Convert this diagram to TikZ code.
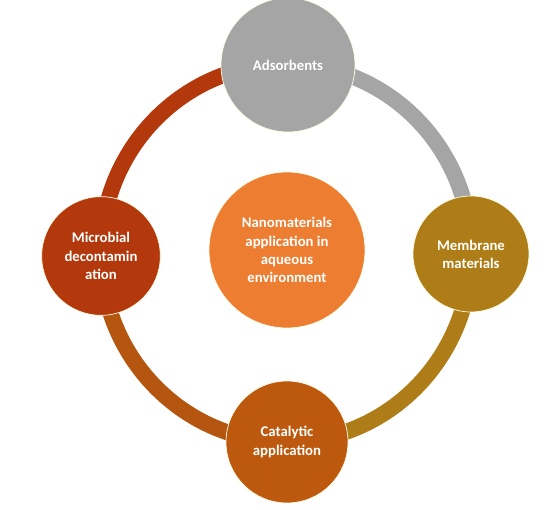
\documentclass[tikz,border=0pt]{standalone}
\usepackage{fontspec}
\setmainfont{Carlito}
\definecolor{cgray}{HTML}{A5A5A5}
\definecolor{cgold}{HTML}{AF7D17}
\definecolor{cbot}{HTML}{BD590E}
\definecolor{cbotarc}{HTML}{B4560F}
\definecolor{cleft}{HTML}{B3390C}
\definecolor{ccent}{HTML}{ED7D31}
\begin{document}
\begin{tikzpicture}[x=0.03cm,y=0.03cm,
  ring/.style={line width=0.48cm},
  bub/.style={circle,draw=white!90!yellow,line width=0.6pt,text=white,
    font=\fontsize{12.6}{15.5}\selectfont\bfseries,align=center,inner sep=0pt}]
\useasboundingbox (0,0) rectangle (550,510);
% ring segments
\draw[ring,cgray]   (286,446) arc[start angle=90,end angle=0,x radius=185,y radius=189];
\draw[ring,cgold]   (471,257) arc[start angle=0,end angle=-90,x radius=185,y radius=189];
\draw[ring,cbotarc] (286,68) arc[start angle=-90,end angle=-180,x radius=185,y radius=189];
\draw[ring,cleft]   (101,257) arc[start angle=180,end angle=90,x radius=185,y radius=189];
% nodes
\node[bub,fill=cgray,minimum size=4.02cm] (ads) at (288,445) {Adsorbents};
\node[bub,fill=cgold,minimum size=3.48cm] (mem) at (471,256) {Membrane\\materials};
\node[bub,fill=cbot,minimum size=3.66cm] (cat) at (287,68) {Catalytic\\application};
\node[bub,fill=cleft,minimum size=3.56cm] (mic) at (101,254) {Microbial\\decontamin\\ation};
\node[bub,fill=ccent,minimum size=4.68cm] (nano) at (287,260) {Nanomaterials\\application in\\aqueous\\environment};
\end{tikzpicture}
\end{document}
